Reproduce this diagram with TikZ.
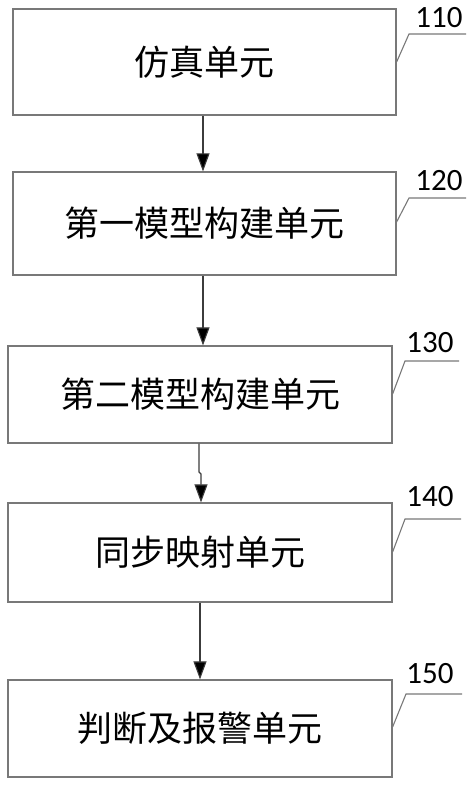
\documentclass[tikz,border=0pt]{standalone}
\usepackage{fontspec}
\newfontfamily\cjk{Noto Sans CJK SC}
\newfontfamily\numfont{Carlito}
\usetikzlibrary{arrows.meta}
\definecolor{boxgray}{RGB}{120,120,120}
\definecolor{arrgray}{RGB}{60,60,60}
\begin{document}
\begin{tikzpicture}[x=1pt,y=-1pt,
  unit/.style={draw=boxgray,line width=1.2pt,inner sep=0pt,font=\cjk\fontsize{35}{40}\selectfont},
  flow/.style={draw=arrgray,line width=1.1pt,-{Triangle[length=18pt,width=13pt,fill=black]}},
  numlbl/.style={font=\numfont\fontsize{31}{34}\selectfont,inner sep=0pt},
  leader/.style={draw=boxgray,line width=1.1pt}]
\useasboundingbox (0,0) rectangle (474,786);
% boxes
\node[unit,minimum width=383pt,minimum height=106pt] (b1) at (204.5,62) {仿真单元};
\node[unit,minimum width=383pt,minimum height=103pt] (b2) at (204.5,223.5) {第一模型构建单元};
\node[unit,minimum width=384pt,minimum height=97pt] (b3) at (200,394.5) {第二模型构建单元};
\node[unit,minimum width=384pt,minimum height=99pt] (b4) at (200,552.5) {同步映射单元};
\node[unit,minimum width=384pt,minimum height=97pt] (b5) at (200,728.5) {判断及报警单元};
% arrows
\draw[flow] (b1.south -| 203,0) -- (b2.north -| 203,0);
\draw[flow] (b2.south -| 203,0) -- (b3.north -| 203,0);
\coordinate (j1) at (199,472);
\coordinate (j2) at (201,474);
\draw[flow] (b3.south -| 199,0) -- (j1) -- (j2) -- (b4.north -| 201,0);
\draw[flow] (b4.south -| 200,0) -- (b5.north -| 200,0);
% labels with leaders
\node[numlbl] (n1) at (439,18) {110};
\coordinate (k1) at (409,34);
\coordinate (e1) at (466,34);
\draw[leader] (b1.east |- 0,62) -- (k1) -- (e1);
\node[numlbl] (n2) at (439,181) {120};
\coordinate (k2) at (409,198);
\coordinate (e2) at (466,198);
\draw[leader] (b2.east |- 0,222) -- (k2) -- (e2);
\node[numlbl] (n3) at (430,343) {130};
\coordinate (k3) at (405,361);
\coordinate (e3) at (459,361);
\draw[leader] (b3.east |- 0,394) -- (k3) -- (e3);
\node[numlbl] (n4) at (430,497) {140};
\coordinate (k4) at (405,519);
\coordinate (e4) at (461,519);
\draw[leader] (b4.east |- 0,552) -- (k4) -- (e4);
\node[numlbl] (n5) at (430,674) {150};
\coordinate (k5) at (406,694);
\coordinate (e5) at (462,694);
\draw[leader] (b5.east |- 0,727) -- (k5) -- (e5);
\end{tikzpicture}
\end{document}
